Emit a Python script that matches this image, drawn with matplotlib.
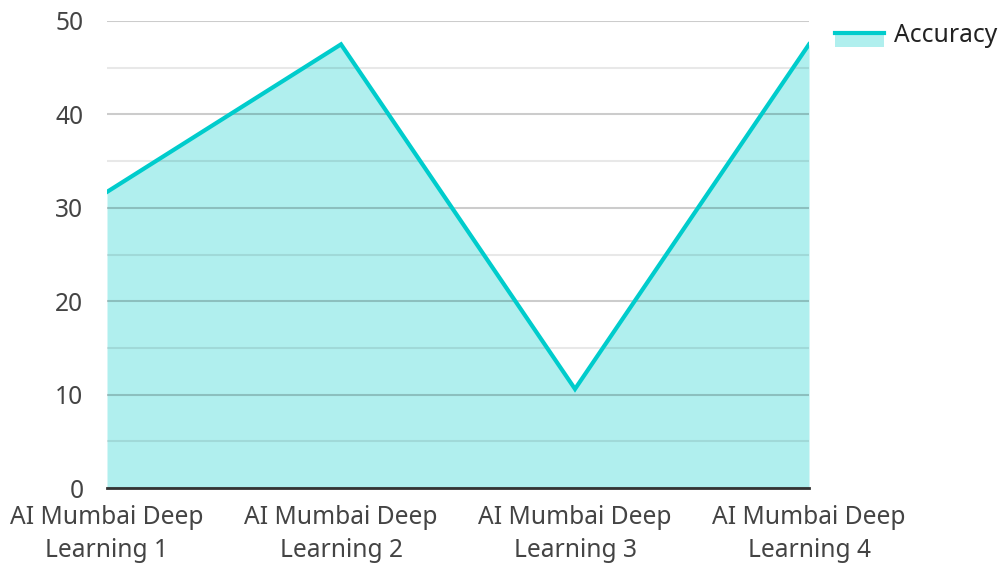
import matplotlib.pyplot as plt
from matplotlib.patches import Rectangle
from matplotlib.lines import Line2D
from matplotlib.legend_handler import HandlerBase

plt.rcParams['font.family'] = ['Noto Sans', 'DejaVu Sans']

categories = ['AI Mumbai Deep\nLearning 1', 'AI Mumbai Deep\nLearning 2',
              'AI Mumbai Deep\nLearning 3', 'AI Mumbai Deep\nLearning 4']
accuracy = [31.7, 47.5, 10.6, 47.5]

LINE_COLOR = '#00cccc'
FILL_COLOR = '#b0efee'
TEXT_COLOR = '#444444'
FS = 17.7


class AreaHandler(HandlerBase):
    """Legend key: filled box with the line along its top edge"""
    def create_artists(self, legend, orig_handle, xdescent, ydescent,
                       width, height, fontsize, trans):
        top = -ydescent + height * 0.55
        depth = fontsize * 0.6
        rect = Rectangle((-xdescent, top - depth), width, depth,
                         facecolor=FILL_COLOR, edgecolor='none', transform=trans)
        line = Line2D([-xdescent, -xdescent + width], [top, top],
                      color=LINE_COLOR, lw=3, transform=trans)
        return [rect, line]


fig = plt.figure(figsize=(9.99, 5.65), dpi=100)
ax = fig.add_axes([107 / 999, 77 / 565, 702 / 999, 467 / 565])

x = list(range(len(categories)))
ax.fill_between(x, accuracy, 0, color=FILL_COLOR, lw=0, zorder=1)
line, = ax.plot(x, accuracy, color=LINE_COLOR, lw=3, zorder=3,
                solid_joinstyle='miter', label='Accuracy')

ax.set_xlim(0, len(categories) - 1)
ax.set_ylim(0, 50)
ax.set_yticks(range(0, 51, 10))
ax.set_yticks(range(5, 50, 10), minor=True)
ax.grid(True, which='major', axis='y', color='black', alpha=0.2, lw=1.5, zorder=2)
ax.grid(True, which='minor', axis='y', color='black', alpha=0.09, lw=1.5, zorder=2)
ax.set_axisbelow(False)

ax.set_xticks(x)
ax.set_xticklabels(categories, fontsize=FS, color=TEXT_COLOR, linespacing=1.45)
ax.tick_params(axis='y', which='both', length=0, labelsize=FS, labelcolor=TEXT_COLOR, pad=17)
ax.tick_params(axis='x', length=0, pad=12)

for side in ['top', 'right', 'left']:
    ax.spines[side].set_visible(False)
ax.spines['bottom'].set_color('#333333')
ax.spines['bottom'].set_linewidth(2)
ax.spines['bottom'].set_zorder(4)

fig.legend([line], ['Accuracy'], handler_map={line: AreaHandler()},
           loc='upper left', bbox_to_anchor=(835 / 999, 1 - 23 / 565),
           frameon=False, fontsize=FS, labelcolor='#222222',
           borderpad=0, borderaxespad=0,
           handlelength=2.0, handletextpad=0.4)

plt.savefig('out.png', dpi=100)
